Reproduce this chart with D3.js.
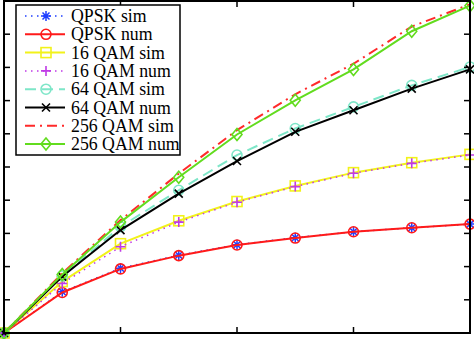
<!DOCTYPE html>
<html><head><meta charset="utf-8">
<script src="https://cdn.jsdelivr.net/npm/d3@7"></script>
<style>body{margin:0;background:#fff}svg{display:block}</style>
</head><body>
<script>
const snr = [0,5,10,15,20,25,30,35,40];
const qpskSim = [0,1.24,1.95,2.34,2.66,2.87,3.05,3.17,3.28];
const qpskNum = [0,1.22,1.93,2.33,2.65,2.86,3.05,3.17,3.28];
const qam16Sim = [0,1.55,2.69,3.38,3.96,4.43,4.83,5.13,5.38];
const qam16Num = [0,1.49,2.6,3.34,3.94,4.41,4.81,5.11,5.36];
const qam64Sim = [0,1.72,3.2,4.3,5.36,6.16,6.81,7.46,8.01];
const qam64Num = [0,1.7,3.1,4.2,5.18,6.06,6.71,7.36,7.94];
const qam256Sim = [0,1.8,3.4,4.8,6.11,7.19,8.11,9.23,9.9];
const qam256Num = [0,1.76,3.34,4.69,5.98,7.01,7.94,9.09,9.86];
const xTicks = [0,10,20,30,40];
const yTicks = [0,1,2,3,4,5,6,7,8,9,10];

const series = [
  {name:"QPSK sim", vals:qpskSim, color:"#1f3fff", dash:"1.5,4.5", marker:"star", width:1.5},
  {name:"QPSK num", vals:qpskNum, color:"#ff1a1a", dash:null, marker:"circle", width:2},
  {name:"16 QAM sim", vals:qam16Sim, color:"#f2f21a", dash:null, marker:"square", width:2},
  {name:"16 QAM num", vals:qam16Num, color:"#c03ae6", dash:"1.5,4.5", marker:"plus", width:1.5},
  {name:"64 QAM sim", vals:qam64Sim, color:"#7ee6c8", dash:"11,6", marker:"circle", width:2},
  {name:"64 QAM num", vals:qam64Num, color:"#000000", dash:null, marker:"x", width:2},
  {name:"256 QAM sim", vals:qam256Sim, color:"#ff2a2a", dash:"10,5,2,5", marker:null, width:2},
  {name:"256 QAM num", vals:qam256Num, color:"#62dc1e", dash:null, marker:"diamond", width:2}
];

const W=474,H=339;
const svg=d3.select("body").append("svg").attr("width",W).attr("height",H);
const x=d3.scaleLinear().domain([0,40]).range([4,470]);
const y=d3.scaleLinear().domain([0,10]).range([333,1]);

function drawMarker(g,type,cx,cy,color){
  const s=5;
  if(type==="circle"){
    g.append("circle").attr("cx",cx).attr("cy",cy).attr("r",s).attr("fill","none").attr("stroke",color).attr("stroke-width",1.6);
  } else if(type==="square"){
    g.append("rect").attr("x",cx-s).attr("y",cy-s).attr("width",2*s).attr("height",2*s).attr("fill","none").attr("stroke",color).attr("stroke-width",1.6);
  } else if(type==="diamond"){
    g.append("path").attr("d",`M${cx},${cy-6}L${cx+5},${cy}L${cx},${cy+6}L${cx-5},${cy}Z`).attr("fill","none").attr("stroke",color).attr("stroke-width",1.6);
  } else if(type==="plus"){
    g.append("path").attr("d",`M${cx-s},${cy}H${cx+s}M${cx},${cy-s}V${cy+s}`).attr("stroke",color).attr("stroke-width",1.6);
  } else if(type==="x"){
    const d=4;
    g.append("path").attr("d",`M${cx-d},${cy-d}L${cx+d},${cy+d}M${cx-d},${cy+d}L${cx+d},${cy-d}`).attr("stroke",color).attr("stroke-width",1.6);
  } else if(type==="star"){
    const d=3.5;
    g.append("path").attr("d",`M${cx-s},${cy}H${cx+s}M${cx},${cy-s}V${cy+s}M${cx-d},${cy-d}L${cx+d},${cy+d}M${cx-d},${cy+d}L${cx+d},${cy-d}`).attr("stroke",color).attr("stroke-width",1.5);
  }
}

const line=d3.line().x((d,i)=>x(snr[i])).y(d=>y(d));
const plot=svg.append("g");
series.forEach(s=>{
  plot.append("path").attr("d",line(s.vals)).attr("fill","none").attr("stroke",s.color)
    .attr("stroke-width",s.width).attr("stroke-dasharray",s.dash);
  if(s.marker){
    const mg=plot.append("g");
    s.vals.forEach((v,i)=>drawMarker(mg,s.marker,x(snr[i]),y(v),s.color));
  }
});

// frame and ticks
const fr=svg.append("g");
fr.append("rect").attr("x",x(0)).attr("y",y(10)).attr("width",x(40)-x(0)).attr("height",y(0)-y(10))
  .attr("fill","none").attr("stroke","#000").attr("stroke-width",2);
const tl=6;
xTicks.forEach(t=>{
  fr.append("line").attr("x1",x(t)).attr("x2",x(t)).attr("y1",y(0)).attr("y2",y(0)-tl).attr("stroke","#000").attr("stroke-width",1.5);
  fr.append("line").attr("x1",x(t)).attr("x2",x(t)).attr("y1",y(10)).attr("y2",y(10)+tl).attr("stroke","#000").attr("stroke-width",1.5);
});
yTicks.forEach(t=>{
  fr.append("line").attr("x1",x(0)).attr("x2",x(0)+tl).attr("y1",y(t)).attr("y2",y(t)).attr("stroke","#000").attr("stroke-width",1.5);
  fr.append("line").attr("x1",x(40)).attr("x2",x(40)-tl).attr("y1",y(t)).attr("y2",y(t)).attr("stroke","#000").attr("stroke-width",1.5);
});

// legend
const lg=svg.append("g");
lg.append("rect").attr("x",16).attr("y",5).attr("width",164).attr("height",150)
  .attr("fill","#fff").attr("stroke","#000").attr("stroke-width",1.5);
series.forEach((s,i)=>{
  const ly=16+i*18.3;
  lg.append("line").attr("x1",25).attr("x2",65).attr("y1",ly).attr("y2",ly).attr("stroke",s.color)
    .attr("stroke-width",s.width).attr("stroke-dasharray",s.dash);
  if(s.marker) drawMarker(lg,s.marker,46,ly,s.color);
  lg.append("text").attr("x",71).attr("y",ly+6).text(s.name)
    .attr("font-family","'Liberation Serif','Times New Roman',serif").attr("font-size",17.8).attr("fill","#000");
});
</script>
</body></html>
